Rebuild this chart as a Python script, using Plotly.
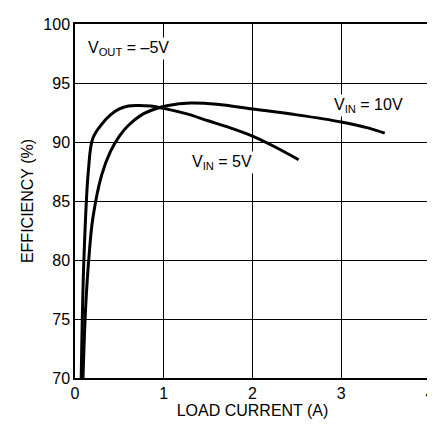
import plotly.graph_objects as go

# load current (A) vs efficiency (%)
x_5v = [0.07, 0.1, 0.15, 0.2, 0.3, 0.4, 0.5, 0.6, 0.7, 0.85, 1.0, 1.25, 1.5, 1.75, 2.0, 2.25, 2.52]
y_5v = [70, 80, 87.5, 90.3, 91.5, 92.3, 92.8, 93.05, 93.1, 93.05, 92.85, 92.4, 91.8, 91.2, 90.5, 89.6, 88.5]

x_10v = [0.09, 0.12, 0.16, 0.2, 0.3, 0.4, 0.5, 0.6, 0.75, 0.9, 1.05, 1.3, 1.6, 2.0, 2.5, 3.0, 3.3, 3.49]
y_10v = [70, 76, 80.5, 83.5, 87.2, 89.2, 90.5, 91.4, 92.3, 92.8, 93.1, 93.3, 93.2, 92.8, 92.3, 91.7, 91.2, 90.75]

x_ticks = [0, 1, 2, 3, 4]
y_ticks = [70, 75, 80, 85, 90, 95, 100]

fig = go.Figure()
for xs, ys in [(x_5v, y_5v), (x_10v, y_10v)]:
    fig.add_trace(go.Scatter(x=xs, y=ys, mode="lines", line=dict(color="black", width=3, shape="spline"),
                             showlegend=False, hoverinfo="skip"))

ax = dict(showgrid=True, gridcolor="black", gridwidth=1, showline=True, linecolor="black", linewidth=1.5,
          mirror=True, zeroline=False, ticks="", tickfont=dict(size=16, color="black"))
fig.update_xaxes(range=[0, 4], tickvals=x_ticks, title=dict(text="LOAD CURRENT (A)", font=dict(size=16), standoff=4), **ax)
fig.update_yaxes(range=[70, 100], tickvals=y_ticks, title=dict(text="EFFICIENCY (%)", font=dict(size=16), standoff=6), **ax)

ann = dict(showarrow=False, font=dict(size=16, color="black"), bgcolor="white", xanchor="left")
fig.add_annotation(x=0.12, y=97.9, text="V<sub>OUT</sub> = –5V", **ann)
fig.add_annotation(x=2.9, y=93.1, text="V<sub>IN</sub> = 10V", **ann)
fig.add_annotation(x=1.3, y=88.3, text="V<sub>IN</sub> = 5V", **ann)

fig.update_layout(width=435, height=431, margin=dict(l=67, r=8, t=13, b=61), plot_bgcolor="white",
                  paper_bgcolor="white", font=dict(family="Liberation Sans", color="black"))
fig.write_html("out.html")
